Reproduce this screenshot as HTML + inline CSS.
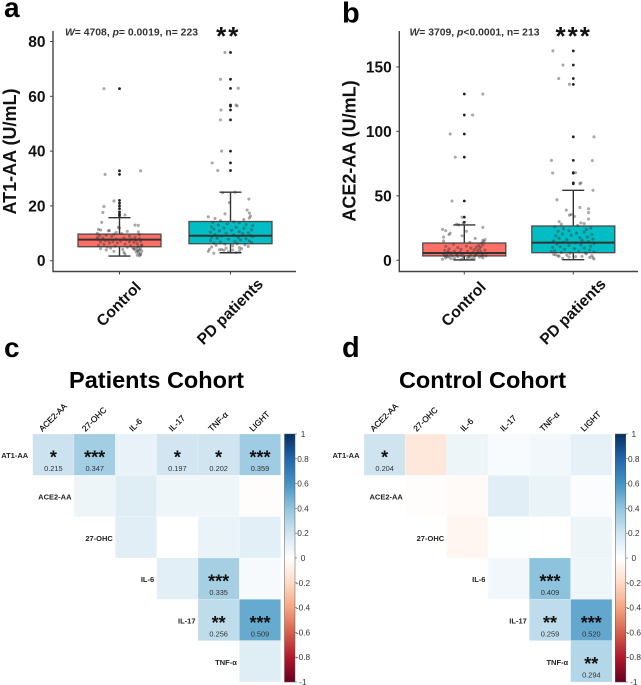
<!DOCTYPE html>
<html lang="en">
<head>
<meta charset="utf-8">
<title>Autoantibody levels and correlation matrices</title>
<style>
html,body{margin:0;padding:0;background:#fff;width:641px;height:685px;overflow:hidden}
svg{display:block;font-family:"Liberation Sans",sans-serif;filter:blur(0.35px)}
</style>
</head>
<body>
<svg id="figure" xmlns="http://www.w3.org/2000/svg" width="641" height="685" viewBox="0 0 641 685">
<defs>
<linearGradient id="rdbu" x1="0" y1="0" x2="0" y2="1">
<stop offset="0" stop-color="#053061"/><stop offset="0.1" stop-color="#2166AC"/><stop offset="0.2" stop-color="#4393C3"/><stop offset="0.3" stop-color="#92C5DE"/><stop offset="0.4" stop-color="#D1E5F0"/><stop offset="0.5" stop-color="#FFFFFF"/><stop offset="0.6" stop-color="#FDDBC7"/><stop offset="0.7" stop-color="#F4A582"/><stop offset="0.8" stop-color="#D6604D"/><stop offset="0.9" stop-color="#B2182B"/><stop offset="1" stop-color="#67001F"/>
</linearGradient>
</defs>
<text x="4" y="17" font-size="28" font-weight="700" fill="#000">a</text>
<text x="342" y="22.5" font-size="29" font-weight="700" fill="#000">b</text>
<text x="4" y="357" font-size="28" font-weight="700" fill="#000">c</text>
<text x="342" y="357" font-size="29" font-weight="700" fill="#000">d</text>
<text x="65" y="35.5" font-size="10" font-weight="700" fill="#333" textLength="133" lengthAdjust="spacingAndGlyphs"><tspan font-style="italic">W</tspan>= 4708, <tspan font-style="italic">p</tspan>= 0.0019, n= 223</text>
<text x="409.5" y="35.5" font-size="10" font-weight="700" fill="#333" textLength="130" lengthAdjust="spacingAndGlyphs"><tspan font-style="italic">W</tspan>= 3709, <tspan font-style="italic">p</tspan>&lt;0.0001, n= 213</text>
<text x="228.3" y="45" font-size="26" font-weight="700" letter-spacing="2" text-anchor="middle" fill="#111">**</text>
<text x="573.7" y="45" font-size="26" font-weight="700" letter-spacing="2" text-anchor="middle" fill="#111">***</text>
<text transform="translate(16,151.5) rotate(-90)" font-size="18" font-weight="700" text-anchor="middle" fill="#111">AT1-AA (U/mL)</text>
<text transform="translate(355.5,151) rotate(-90)" font-size="18" font-weight="700" text-anchor="middle" fill="#111">ACE2-AA (U/mL)</text>
<text x="156.5" y="388" font-size="23.5" font-weight="700" text-anchor="middle" fill="#000">Patients Cohort</text>
<text x="482.5" y="388" font-size="23.5" font-weight="700" text-anchor="middle" fill="#000">Control Cohort</text>
</svg>
<script>
// ---------- Box plot data ----------
const groupLabels = ['Control', 'PD patients'];
const aTicks = [0, 20, 40, 60, 80];
const bTicks = [0, 50, 100, 150];
// box stats: whisker low, q1, median, q3, whisker high
const aControlBox = [1.7, 5.1, 7.7, 9.7, 15.7];
const aPatientBox = [2.9, 6.2, 9.1, 14.3, 25];
const bControlBox = [0.3, 3.4, 5.7, 13.4, 27.4];
const bPatientBox = [0.5, 5.9, 13.7, 26.6, 54.3];
// outliers drawn on the box centre line
const aControlOutliers = [62.8, 32.8, 31.5, 22, 21, 20, 19, 17.8, 17, 16.4];
const aPatientOutliers = [76, 66.2, 62.9, 56.8, 56.4, 55, 51.4, 40, 35.7, 32.9];
const bControlOutliers = [129, 112.7, 98, 80, 46, 33.5, 29.5];
const bPatientOutliers = [162.5, 151.5, 141, 136.5, 95.8, 77.5, 68, 67.6, 60, 59.4];
// jittered observations: value and horizontal jitter (in category units)
const aControlValues = [
62.8,32.8,31.5,21.8,19.8,17.6,16.7,14,13,12.9,
12.2,12,11.4,11.2,11,10.9,10.7,10.5,10.3,10,
9.9,9.7,9.5,9.3,9.1,8.9,8.8,8.6,8.5,8.3,
8.2,8,7.9,7.8,7.7,7.6,7.5,7.4,7.3,7.2,
7.1,7,6.9,6.8,6.7,6.5,6.4,6.2,6,5.9,
5.8,5.6,5.5,5.3,5.2,5,4.9,4.8,4.6,4.5,
4.4,4.2,4.1,4,3.9,3.7,3.5,3.4,3.2,3,
2.8,2.6,2.4,2.2,2,1.8,4.3,4.7,5.4,3.6
];
const aControlJitter = [
-.14,.19,-.13,-.05,-.14,-.15,.05,-.16,.14,.17,
-.01,.0,-.19,-.17,-.09,-.1,.07,.17,-.03,-.2,
.02,-.05,.18,-.12,-.18,.09,-.07,.14,-.2,.04,
-.15,.18,-.03,.11,-.19,.06,-.1,.15,-.13,.01,
.19,-.06,.09,-.17,.13,-.02,-.09,.16,.05,-.14,
.2,-.19,.1,-.04,.17,-.11,.07,.16,-.08,.19,
-.17,.13,.03,.18,-.12,.16,.2,-.05,.15,.04,
.17,.19,.05,.19,.16,.18,.14,.12,.2,.17
];
const aPatientValues = [
76,66.2,62.9,56.8,56.5,55,51.4,40,35.7,32.9,
25,24.8,22.5,21.2,18.5,17.4,17.1,16.3,16,15.6,
15.4,15,14.6,14.2,14,13.8,13.5,13.2,13,12.8,
12.4,12.2,12,11.8,11.5,11.3,11.1,10.9,10.6,10.4,
10.2,10,9.8,9.6,9.4,9.2,9,8.8,8.6,8.4,
8.2,8,7.8,7.6,7.4,7.2,7,6.8,6.6,6.4,
6.2,6,5.8,5.6,5.4,5.2,5,4.8,4.6,4.4,
4.2,4,3.9,3.8,3.6,3.4,3.2,3,2.7,4.1
];
const aPatientJitter = [
-.05,-.09,.07,.05,.06,-.085,-.09,-.08,-.165,-.115,
.04,-.07,.165,-.01,.15,.17,-.05,.18,-.2,.17,
-.14,.12,-.09,.03,-.16,.08,-.03,.14,-.11,.2,
-.17,.05,-.06,.12,-.15,.19,.01,-.1,.08,-.18,
.16,-.04,.11,-.14,.03,.18,-.08,.2,-.17,.07,
-.12,.14,-.02,.09,-.18,.17,.04,-.09,.19,-.15,
.06,-.05,.13,-.13,.02,.16,-.17,.08,-.04,.1,
-.19,-.1,.02,-.06,.08,-.2,-.02,.05,-.15,-.08
];
const bControlValues = [
129,112.7,98,80,46,33.5,29,28,27.5,25.5,
24,23,22.5,21,20,19,18,17,16,15.5,
15,14.5,14,13.5,12.5,12,11.5,11,10.8,10.5,
10,9.8,9.5,9,8.8,8.5,8.2,8,7.8,7.5,
7.2,7,6.8,6.5,6.2,6,5.8,5.6,5.3,5,
4.8,4.6,4.4,4.2,4,3.8,3.6,3.4,3.2,3,
2.8,2.6,2.4,2.2,2,1.8,1.6,1.4,1.2,1,
.8,.6,3.5,5.2,4.7,2.9,1.9,4.1,6.4,2.5
];
const bControlJitter = [
.17,.076,-.13,-.083,-.113,-.02,-.01,-.07,-.05,.17,
-.2,-.17,.02,-.13,-.14,-.02,-.19,.1,.19,.17,
-.19,.18,.05,.16,-.1,.17,.13,.02,-.17,.15,
.11,-.06,.06,.14,-.14,-.03,.09,.19,-.18,.12,
-.09,.03,.15,-.15,-.04,.08,-.12,.13,-.01,-.19,
.06,-.07,.17,-.16,-.03,.1,-.11,.2,-.18,.04,
-.06,.14,-.14,-.01,.09,-.17,-.09,.03,-.12,.07,
-.2,-.03,.16,-.13,.11,-.16,.17,-.07,-.15,.05
];
const bPatientValues = [
162.5,151.5,141,136.5,95.8,77.5,77.4,67.7,68,59.5,
60,54.3,47,41,40,39,37,35.5,35,34,
32,30,29,28.5,28,27,26,25,24.5,24,
23,22.5,22,21,20.5,20,19.5,19,18,17.5,
17,16.5,16,15.5,15,14.5,14,13.5,13,12.5,
12,11.5,11,10.5,10,9.5,9,8.5,8,7.5,
7,6.5,6,5.5,5,4.5,4,3.6,3.2,3,
2.8,2.5,2.2,2,1.5,1,4.2,3.4,5.8,6.8
];
const bPatientJitter = [
-.187,-.095,-.134,-.035,.19,-.2,.175,-.19,.02,.06,
.07,.18,-.15,.06,.14,-.064,.14,-.02,-.035,.01,
.14,-.13,.07,.1,-.11,.04,-.17,.16,-.09,.12,
-.04,-.14,.1,.03,-.1,.17,-.02,-.16,.13,.06,
-.13,.18,-.06,.08,-.18,.14,-.09,.02,.19,-.15,
.07,-.04,.16,-.12,-.19,.1,.01,-.08,.15,-.17,
.05,.19,-.11,-.03,.12,-.18,-.06,.17,-.13,.08,
.02,-.04,.15,.18,-.1,.19,-.16,-.14,.11,-.2
];
// ---------- Correlation data ----------
const rowLabels = ['AT1-AA', 'ACE2-AA', '27-OHC', 'IL-6', 'IL-17', 'TNF-α'];
const columnLabels = ['ACE2-AA', '27-OHC', 'IL-6', 'IL-17', 'TNF-α', 'LIGHT'];
const colorbarTicks = [1, 0.8, 0.6, 0.4, 0.2, 0, -0.2, -0.4, -0.6, -0.8, -1];
const patientsCorr = [
[0.215, 0.347, 0.10, 0.197, 0.202, 0.359],
[null, 0.08, 0.14, 0.07, 0.07, -0.01],
[null, null, 0.13, 0.00, 0.09, 0.12],
[null, null, null, 0.12, 0.335, 0.04],
[null, null, null, null, 0.256, 0.509],
[null, null, null, null, null, 0.14]
];
const patientsStars = [
['*', '***', '', '*', '*', '***'],
['', '', '', '', '', ''],
['', '', '', '', '', ''],
['', '', '', '', '***', ''],
['', '', '', '', '**', '***'],
['', '', '', '', '', '']
];
const controlCorr = [
[0.204, -0.13, 0.08, 0.03, 0.06, 0.11],
[null, -0.01, -0.03, 0.13, 0.09, 0.02],
[null, null, -0.05, 0.01, 0.00, 0.08],
[null, null, null, 0.06, 0.409, 0.07],
[null, null, null, null, 0.259, 0.520],
[null, null, null, null, null, 0.294]
];
const controlStars = [
['*', '', '', '', '', ''],
['', '', '', '', '', ''],
['', '', '', '', '', ''],
['', '', '', '', '***', ''],
['', '', '', '', '**', '***'],
['', '', '', '', '', '**']
];
const paletteRdBu = ['#67001F','#B2182B','#D6604D','#F4A582','#FDDBC7','#FFFFFF','#D1E5F0','#92C5DE','#4393C3','#2166AC','#053061'];

// ---------- Drawing helpers ----------
const svg = document.getElementById('figure');
const NS = 'http://www.w3.org/2000/svg';
function mk(tag, attrs, parent, text) {
  const el = document.createElementNS(NS, tag);
  for (const k in attrs) el.setAttribute(k, attrs[k]);
  if (text !== undefined) el.textContent = text;
  (parent || svg).appendChild(el);
  return el;
}
function corrColor(v) {
  const t = Math.max(0, Math.min(1, (v + 1) / 2)) * 10;
  const i = Math.min(9, Math.floor(t));
  const f = t - i;
  const hex = s => [1, 3, 5].map(p => parseInt(s.substr(p, 2), 16));
  const a = hex(paletteRdBu[i]), b = hex(paletteRdBu[i + 1]);
  return 'rgb(' + a.map((c, n) => Math.round(c + (b[n] - c) * f)).join(',') + ')';
}

function drawBoxPanel(p) {
  const y = v => p.y0 - v * p.k;
  const x = i => p.x0 + i * p.step;
  const g = mk('g', {});
  
  

  p.ticks.forEach(t => {
    const tick = mk('line', {x1: p.axisX - 3, x2: p.axisX, y1: y(t), y2: y(t), stroke: '#444', 'stroke-width': 1}, g);
    
    
    const lab = mk('text', {x: p.axisX - 7.5, y: y(t) + 5.5, 'font-size': 15.5, 'font-weight': 700, 'text-anchor': 'end', fill: '#111'}, g, String(t));
    
    
  });
  const axis = mk('path', {d: 'M' + p.axisX + ' 31V271.5H' + p.axisEnd, fill: 'none', stroke: '#444', 'stroke-width': 1.4}, g);
  
  

  groupLabels.forEach((label, i) => {
    const tick = mk('line', {x1: x(i), x2: x(i), y1: 271.5, y2: 274.5, stroke: '#444', 'stroke-width': 1}, g);
    
    
    const ax = x(i) + (i === 0 ? 22.5 : 33.5);
    const ay = i === 0 ? 288 : 285;
    const lab = mk('text', {transform: 'translate(' + ax + ',' + ay + ') rotate(-45)', 'font-size': 15.6, 'font-weight': 700, 'text-anchor': 'end', fill: '#111'}, g, label);
    
    

    const s = p.boxes[i];
    const fill = i === 0 ? '#FF6F66' : '#00BEC4';
    const half = 41.5, cap = 11;
    const stem = mk('path', {d: 'M' + x(i) + ' ' + y(s[4]) + 'V' + y(s[0]) + 'M' + (x(i) - cap) + ' ' + y(s[4]) + 'H' + (x(i) + cap) + 'M' + (x(i) - cap) + ' ' + y(s[0]) + 'H' + (x(i) + cap), fill: 'none', stroke: '#333', 'stroke-width': 1.4}, g);
    
    
    const box = mk('rect', {x: x(i) - half, y: y(s[3]), width: half * 2, height: y(s[1]) - y(s[3]), fill: fill, stroke: '#4a4a4a', 'stroke-width': 1.3}, g);
    
    
    const med = mk('line', {x1: x(i) - half, x2: x(i) + half, y1: y(s[2]), y2: y(s[2]), stroke: '#333', 'stroke-width': 2}, g);
    
    

    p.outliers[i].forEach(v => {
      const c = mk('circle', {cx: x(i), cy: y(v), r: 1.4, fill: '#222'}, g);
      
      
    });
    p.values[i].forEach((v, n) => {
      const c = mk('circle', {cx: x(i) + p.jitter[i][n] * p.step, cy: y(v), r: 1.55, fill: '#333', 'fill-opacity': 0.42}, g);
      
      
    });
  });
}

function drawHeatmap(p) {
  const cell = 41.33;
  const cx = i => p.x0 + i * cell;
  const cy = i => 434 + i * cell;
  const g = mk('g', {});
  
  

  p.corr.forEach((row, r) => {
    row.forEach((v, c) => {
      if (v === null) return;
      const rect = mk('rect', {x: cx(c), y: cy(r), width: cell, height: cell, fill: corrColor(v), stroke: '#fff', 'stroke-opacity': 0.35, 'stroke-width': 0.5}, g);
      
      
      const stars = p.stars[r][c];
      if (stars) {
        const st = mk('text', {x: cx(c) + cell / 2, y: cy(r) + 29.5, 'font-size': 18, 'font-weight': 700, 'text-anchor': 'middle', fill: '#111'}, g, stars);
        
        
        const val = mk('text', {x: cx(c) + cell / 2, y: cy(r) + 37, 'font-size': 7.4, 'text-anchor': 'middle', fill: '#333'}, g, v.toFixed(3));
        
        
      }
    });
  });
  rowLabels.forEach((label, r) => {
    const lab = mk('text', {x: cx(r) - (r === 0 ? 4.5 : 2.5), y: cy(r) + 24.2, 'font-size': 7.5, 'font-weight': 700, 'text-anchor': 'end', fill: '#222'}, g, label);
    
    
  });
  columnLabels.forEach((label, c) => {
    const lab = mk('text', {'font-size': 8.3, 'text-anchor': 'middle', fill: '#000', stroke: '#000', 'stroke-width': 0.18}, g, label);
    
    
    const len = lab.getComputedTextLength();
    lab.setAttribute('transform', 'translate(' + (cx(c) + cell / 2 + 1.5) + ',' + (432 - len * 0.354) + ') rotate(-45)');
  });
  const bar = mk('rect', {x: p.barX, y: 434, width: 10.5, height: 248, fill: 'url(#rdbu)', stroke: '#555', 'stroke-width': 0.5}, g);
  
  
  const barY = v => 434 + (1 - v) / 2 * 248;
  colorbarTicks.forEach(t => {
    const tick = mk('line', {x1: p.barX + 10.5, x2: p.barX + 12.5, y1: barY(t), y2: barY(t), stroke: '#555', 'stroke-width': 0.6}, g);
    
    
    const lab = mk('text', {x: p.barX + 18.5, y: barY(t) + 3, 'font-size': 8.3, 'text-anchor': 'middle', fill: '#333'}, g, String(t));
    
    
  });
}

drawBoxPanel({name: 'boxplot-at1-aa', y0: 260.7, k: 2.74, x0: 119.5, step: 111, axisX: 53, axisEnd: 296, ticks: aTicks,
  boxes: [aControlBox, aPatientBox], outliers: [aControlOutliers, aPatientOutliers],
  values: [aControlValues, aPatientValues], jitter: [aControlJitter, aPatientJitter]});
drawBoxPanel({name: 'boxplot-ace2-aa', y0: 260.3, k: 1.289, x0: 464.3, step: 109, axisX: 399.3, axisEnd: 638, ticks: bTicks,
  boxes: [bControlBox, bPatientBox], outliers: [bControlOutliers, bPatientOutliers],
  values: [bControlValues, bPatientValues], jitter: [bControlJitter, bPatientJitter]});
drawHeatmap({name: 'heatmap-patients', x0: 32.7, barX: 284.5, corr: patientsCorr, stars: patientsStars});
drawHeatmap({name: 'heatmap-control', x0: 364, barX: 615.3, corr: controlCorr, stars: controlStars});
</script>
</body>
</html>
